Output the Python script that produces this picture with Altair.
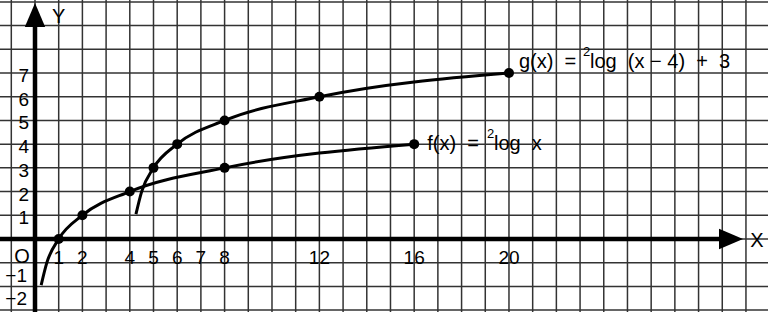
import altair as alt
import pandas as pd

# ---- data ----
f_x = [0.26, 0.5, 1, 2, 4, 8, 16]
f_y = [-1.95, -1, 0, 1, 2, 3, 4]
f_pts_x = [1, 2, 4, 8, 16]
f_pts_y = [0, 1, 2, 3, 4]

g_x = [4.26, 4.5, 5, 6, 8, 12, 20]
g_y = [1.05, 2, 3, 4, 5, 6, 7]
g_pts_x = [5, 6, 8, 12, 20]
g_pts_y = [3, 4, 5, 6, 7]

x_ticks = [1, 2, 4, 5, 6, 7, 8, 12, 16, 20]
y_ticks_pos = [1, 2, 3, 4, 5, 6, 7]
y_ticks_neg = [-1, -2]
grid_x = list(range(-1, 31))
grid_y = list(range(-3, 11))

NB = "\u00a0"
f_head = "f(x)" + NB + " ="
f_tail = "log" + NB + " x"
g_head = "g(x)" + NB + " ="
g_tail = "log" + NB + " (x \u2212 4)" + NB + " + " + NB + "3"

X_DOM = [-1.477, 30.93]
Y_DOM = [-3.08, 10.08]
FONT = "Liberation Sans"

xs = alt.Scale(domain=X_DOM, nice=False, zero=False)
ys = alt.Scale(domain=Y_DOM, nice=False, zero=False)

def X(f="x"):
    return alt.X(f"{f}:Q", scale=xs, axis=None)

def Y(f="y"):
    return alt.Y(f"{f}:Q", scale=ys, axis=None)

vgrid = alt.Chart(pd.DataFrame({"x": grid_x})).mark_rule(
    color="#333333", strokeWidth=1.5
).encode(x=X(), y=alt.value(0), y2=alt.value(312))

hgrid = alt.Chart(pd.DataFrame({"y": grid_y})).mark_rule(
    color="#333333", strokeWidth=1.5
).encode(y=Y(), x=alt.value(0), x2=alt.value(768))

xaxis = alt.Chart(pd.DataFrame({"x": [X_DOM[0]], "x2": [28.9], "y": [0]})).mark_rule(
    color="black", strokeWidth=4.5
).encode(x=X(), x2="x2:Q", y=Y())

yaxis = alt.Chart(pd.DataFrame({"x": [0], "y": [Y_DOM[0]], "y2": [9.0]})).mark_rule(
    color="black", strokeWidth=4.5
).encode(x=X(), y=Y(), y2="y2:Q")

arrow_x = alt.Chart(pd.DataFrame({"x": [29.37], "y": [0]})).mark_point(
    shape="M-1,-0.85L1,0L-1,0.85Z", size=576, filled=True, color="black", opacity=1
).encode(x=X(), y=Y())

arrow_y = alt.Chart(pd.DataFrame({"x": [0], "y": [9.45]})).mark_point(
    shape="M-0.85,1L0,-1L0.85,1Z", size=576, filled=True, color="black", opacity=1
).encode(x=X(), y=Y())

f_line = alt.Chart(pd.DataFrame({"x": f_x, "y": f_y})).mark_line(
    color="black", strokeWidth=3, interpolate="monotone"
).encode(x=X(), y=Y())
g_line = alt.Chart(pd.DataFrame({"x": g_x, "y": g_y})).mark_line(
    color="black", strokeWidth=3, interpolate="monotone"
).encode(x=X(), y=Y())

pts = alt.Chart(pd.DataFrame({"x": f_pts_x + g_pts_x, "y": f_pts_y + g_pts_y})).mark_circle(
    color="black", size=100, opacity=1
).encode(x=X(), y=Y())

xt = alt.Chart(pd.DataFrame({"x": x_ticks, "t": [str(v) for v in x_ticks]})).mark_text(
    font=FONT, fontSize=19, color="black", align="center", baseline="middle", dy=19
).encode(x=X(), y=alt.value(239), text="t:N")

yt = alt.Chart(pd.DataFrame({"y": y_ticks_pos, "t": [str(v) for v in y_ticks_pos]})).mark_text(
    font=FONT, fontSize=19, color="black", align="right", baseline="middle", dx=-6, dy=3
).encode(x=alt.value(35), y=Y(), text="t:N")

ytn = alt.Chart(pd.DataFrame({"y": y_ticks_neg, "t": ["\u2212" + str(-v) for v in y_ticks_neg]})).mark_text(
    font=FONT, fontSize=19, color="black", align="right", baseline="middle", dx=-8, dy=13
).encode(x=alt.value(35), y=Y(), text="t:N")

labels = alt.Chart(pd.DataFrame({
    "x": [-0.55, 1.0, 30.46],
    "y": [-0.75, 9.37, -0.08],
    "t": ["O", "Y", "X"],
})).mark_text(font=FONT, fontSize=20, color="black", align="center", baseline="middle").encode(
    x=X(), y=Y(), text="t:N"
)

fn_main = alt.Chart(pd.DataFrame({
    "x": [16.55, 19.37, 20.42, 23.42],
    "y": [4.0, 4.0, 7.45, 7.45],
    "t": [f_head, f_tail, g_head, g_tail],
})).mark_text(font=FONT, fontSize=20, color="black", align="left", baseline="middle").encode(
    x=X(), y=Y(), text="t:N"
)

fn_sup = alt.Chart(pd.DataFrame({
    "x": [19.07, 23.12],
    "y": [4.42, 7.87],
    "t": ["2", "2"],
})).mark_text(font=FONT, fontSize=13, color="black", align="left", baseline="middle").encode(
    x=X(), y=Y(), text="t:N"
)

chart = alt.layer(
    vgrid, hgrid, f_line, g_line, pts, xaxis, yaxis, arrow_x, arrow_y,
    xt, yt, ytn, labels, fn_main, fn_sup
).properties(
    width=768, height=312, padding=0,
    autosize=alt.AutoSizeParams(type="none"),
    background="white",
).configure_view(stroke=None)

chart.save("out.html", embed_options={"renderer": "svg", "actions": False})
